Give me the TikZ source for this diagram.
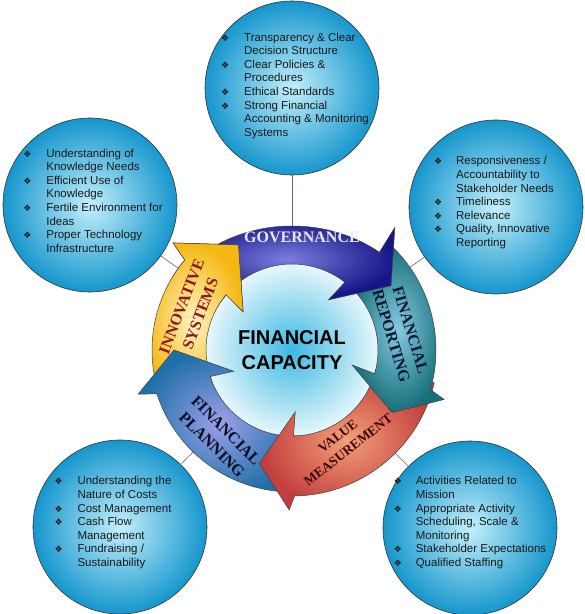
\documentclass[tikz,border=0pt]{standalone}
\usepackage{fontspec}
\setmainfont{Liberation Sans}
\newfontfamily\ringfont{Liberation Serif}
\newfontfamily\symfont{DejaVu Sans}
\usetikzlibrary{positioning}

\definecolor{bubin}{RGB}{195,240,251}
\definecolor{bubout}{RGB}{22,150,205}
\definecolor{corein}{RGB}{60,185,225}
\definecolor{coreout}{RGB}{236,249,253}
\definecolor{govin}{RGB}{125,125,222}
\definecolor{govout}{RGB}{22,22,135}
\definecolor{repin}{RGB}{135,200,228}
\definecolor{repout}{RGB}{22,112,122}
\definecolor{valin}{RGB}{242,160,120}
\definecolor{valout}{RGB}{195,62,62}
\definecolor{planin}{RGB}{155,160,232}
\definecolor{planout}{RGB}{32,112,168}
\definecolor{innin}{RGB}{255,243,195}
\definecolor{innout}{RGB}{245,184,18}

\newcommand{\bul}{{\symfont\fontsize{9}{9}\selectfont ❖}}

% #1 style, #2 tail angle, #3 head angle, #4 tip angle, #5/#6 outer radii
\newcommand{\ringarrow}[6][]{%
  \draw[ringarrow,#1] (#2:86) arc[start angle=#2, end angle=#3, radius=86]
    -- (#3+2:62) -- (#4:118) -- (#3-2:160) -- (#3:#5 and #6)
    arc[start angle=#3, end angle=#2, x radius=#5, y radius=#6] -- cycle;}

\tikzset{
  bubble/.style={circle, draw=black!80, line width=0.6pt, minimum size=174pt,
    inner sep=0pt, shading=radial, inner color=bubin, outer color=bubout},
  bubtext/.style={inner sep=0pt, text=black!90, font=\fontsize{11.5}{13.6}\selectfont},
  ringarrow/.style={draw=black!75, line width=0.5pt, shading=radial},
  ringlabel/.style={inner sep=0pt, align=center, font=\ringfont\bfseries\fontsize{16}{20}\selectfont},
  link/.style={draw=black!60, line width=0.6pt}
}

\begin{document}
\begin{tikzpicture}[x=1pt,y=1pt]
\useasboundingbox (-292,-264) rectangle (293,350);

\node[circle, minimum size=178pt, inner sep=0pt, shading=radial,
  inner color=corein, outer color=coreout] (core) at (0,0) {};

\node[bubble] (gov)  at (0,262) {};
\node[bubble] (inno) at (-202,145) {};
\node[bubble] (rep)  at (204,143) {};
\node[bubble] (plan) at (-172,-177) {};
\node[bubble] (val)  at (178,-178) {};

\draw[link] (gov) -- (core);
\draw[link] (inno) -- (core);
\draw[link] (rep) -- (core);
\draw[link] (plan) -- (core);
\draw[link] (val) -- (core);

% ring of arrows
\ringarrow[inner color=innin, outer color=innout]{201}{140}{117}{140}{140}
\ringarrow[inner color=planin, outer color=planout]{274}{198}{180}{142}{142}
\ringarrow[inner color=valin, outer color=valout]{-13}{-89}{-106}{146}{146}
\ringarrow[inner color=repin, outer color=repout]{47}{-16}{-32}{144}{144}
\ringarrow[inner color=govin, outer color=govout]{143}{52}{33}{142}{124}
\begin{scope}
  \clip (0,0) -- (95:220) arc[start angle=95, end angle=150, radius=220] -- cycle;
  \ringarrow[inner color=innin, outer color=innout]{201}{140}{117}{140}{140}
\end{scope}

\node[ringlabel, text={rgb,255:red,232;green,232;blue,252}] (govlabel) at (10,112.5) {GOVERNANCE};
\node[ringlabel, text={rgb,255:red,10;green,26;blue,48}, rotate=-73] (replabel) at (109,17) {FINANCIAL\\REPORTING};
\node[ringlabel, text={rgb,255:red,60;green,6;blue,6}, rotate=38,
  font=\ringfont\bfseries\fontsize{13.5}{17}\selectfont] (vallabel) at (51,-93) {VALUE\\MEASUREMENT};
\node[ringlabel, text={rgb,255:red,12;green,12;blue,36}, rotate=-45] (planlabel) at (-73,-87.5) {FINANCIAL\\PLANNING};
\node[ringlabel, text={rgb,255:red,139;green,26;blue,26}, rotate=69] (innolabel) at (-101,40) {INNOVATIVE\\SYSTEMS};

\node[align=center, font=\bfseries\fontsize{20}{25}\selectfont] (title) at (core) {FINANCIAL\\CAPACITY};

\node[bubtext] (govtext) at ([shift={(3,2)}]gov.center) {\begin{tabular}{@{}p{23pt}@{}l@{}}
\bul & Transparency \& Clear\\ & Decision Structure\\
\bul & Clear Policies \&\\ & Procedures\\
\bul & Ethical Standards\\
\bul & Strong Financial\\ & Accounting \& Monitoring\\ & Systems
\end{tabular}};
\node[bubtext] (innotext) at ([shift={(3,3)}]inno.center) {\begin{tabular}{@{}p{23pt}@{}l@{}}
\bul & Understanding of\\ & Knowledge Needs\\
\bul & Efficient Use of\\ & Knowledge\\
\bul & Fertile Environment for\\ & Ideas\\
\bul & Proper Technology\\ & Infrastructure
\end{tabular}};
\node[bubtext] (reptext) at ([shift={(-2,4)}]rep.center) {\begin{tabular}{@{}p{22pt}@{}l@{}}
\bul & Responsiveness /\\ & Accountability to\\ & Stakeholder Needs\\
\bul & Timeliness\\
\bul & Relevance\\
\bul & Quality, Innovative\\ & Reporting
\end{tabular}};
\node[bubtext] (plantext) at ([shift={(-7,4)}]plan.center) {\begin{tabular}{@{}p{23pt}@{}l@{}}
\bul & Understanding the\\ & Nature of Costs\\
\bul & Cost Management\\
\bul & Cash Flow\\ & Management\\
\bul & Fundraising /\\ & Sustainability
\end{tabular}};
\node[bubtext] (valtext) at ([shift={(0,5)}]val.center) {\begin{tabular}{@{}p{22pt}@{}l@{}}
\bul & Activities Related to\\ & Mission\\
\bul & Appropriate Activity\\ & Scheduling, Scale \&\\ & Monitoring\\
\bul & Stakeholder Expectations\\
\bul & Qualified Staffing
\end{tabular}};
\end{tikzpicture}
\end{document}
